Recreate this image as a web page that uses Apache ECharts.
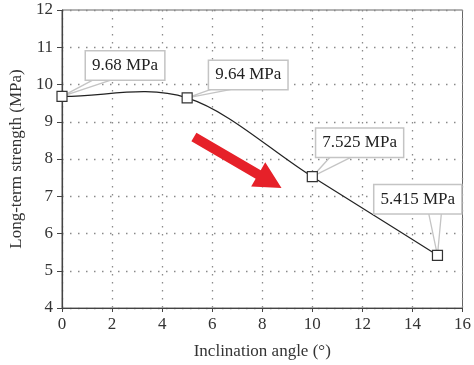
<!DOCTYPE html>
<html><head><meta charset="utf-8">
<script src="https://cdn.jsdelivr.net/npm/echarts@6/dist/echarts.min.js"></script>
<style>html,body{margin:0;padding:0;background:#fff}#c{width:474px;height:365px}</style>
</head><body><div id="c"></div>
<script>
// ---- data ----
const angles = [0, 5, 10, 15];
const strength = [9.68, 9.64, 7.525, 5.415];
const labelUnit = ' MPa';
const xAxisName = 'Inclination angle (°)';
const yAxisName = 'Long-term strength (MPa)';
const arrowFrom = [5.27, 8.59];
const arrowTo = [8.77, 7.22];

// ---- callout layout (style only) ----
const calloutBox = [[24, -45], [22, -37], [4, -48], [-63, -70]];
const calloutBase = [[10, 30], [6, 30], [15, 38], [54, 67]];
const boxH = 28;

const FONT = '"Liberation Serif", "DejaVu Serif", serif';
const chart = echarts.init(document.getElementById('c'), null, {renderer: 'canvas'});

// Catmull-Rom style tangents (finite differences), endpoints use secants
function tangents(xs, ys) {
  const n = xs.length, m = [];
  for (let i = 0; i < n; i++) {
    if (i === 0) m.push((ys[1] - ys[0]) / (xs[1] - xs[0]));
    else if (i === n - 1) m.push((ys[n - 1] - ys[n - 2]) / (xs[n - 1] - xs[n - 2]));
    else m.push((ys[i + 1] - ys[i - 1]) / (xs[i + 1] - xs[i - 1]));
  }
  return m;
}

function renderCurve(params, api) {
  const m = tangents(angles, strength);
  const children = [];
  for (let i = 0; i < angles.length - 1; i++) {
    const h = angles[i + 1] - angles[i];
    const p0 = api.coord([angles[i], strength[i]]);
    const p1 = api.coord([angles[i + 1], strength[i + 1]]);
    const c0 = api.coord([angles[i] + h / 3, strength[i] + m[i] * h / 3]);
    const c1 = api.coord([angles[i + 1] - h / 3, strength[i + 1] - m[i + 1] * h / 3]);
    children.push({
      type: 'bezierCurve',
      shape: {x1: p0[0], y1: p0[1], x2: p1[0], y2: p1[1], cpx1: c0[0], cpy1: c0[1], cpx2: c1[0], cpy2: c1[1]},
      style: {stroke: '#222', lineWidth: 1.2, fill: null}
    });
  }
  return {type: 'group', children: children};
}

chart.setOption({
  animation: false,
  backgroundColor: '#fff',
  grid: {left: 59, right: 8, top: 10, bottom: 57, show: true, borderColor: '#666', borderWidth: 1},
  xAxis: {
    type: 'value', min: 0, max: 16, interval: 2,
    name: xAxisName, nameLocation: 'middle', nameGap: 35,
    nameTextStyle: {fontFamily: FONT, fontSize: 17, color: '#333'},
    axisLine: {show: true, onZero: false, lineStyle: {color: '#444', width: 1.2}},
    axisTick: {show: true, length: 4, lineStyle: {color: '#444'}},
    axisLabel: {fontFamily: FONT, fontSize: 17, color: '#333', margin: 8},
    splitLine: {show: true, lineStyle: {color: '#8a8a8a', type: [1.5, 6.5], width: 1.3}}
  },
  yAxis: {
    type: 'value', min: 4, max: 12, interval: 1,
    name: yAxisName, nameLocation: 'middle', nameGap: 37, nameRotate: 90,
    nameTextStyle: {fontFamily: FONT, fontSize: 17, color: '#333'},
    axisLine: {show: true, onZero: false, lineStyle: {color: '#444', width: 1.2}},
    axisTick: {show: true, length: 5, lineStyle: {color: '#444'}},
    axisLabel: {fontFamily: FONT, fontSize: 17, color: '#333', margin: 9},
    splitLine: {show: true, lineStyle: {color: '#8a8a8a', type: [1.5, 6.5], width: 1.3}}
  },
  series: [{
    type: 'custom',
    data: [[angles[0], strength[0]]],
    renderItem: renderCurve,
    silent: true,
    z: 2
  }, {
    type: 'scatter',
    data: angles.map((a, i) => [a, strength[i]]),
    symbol: 'rect', symbolSize: 10,
    itemStyle: {color: '#fff', borderColor: '#333', borderWidth: 1.2, opacity: 1},
    z: 4
  }]
});

function buildGraphics() {
  const g = [];
  angles.forEach((a, i) => {
    const p = chart.convertToPixel({gridIndex: 0}, [a, strength[i]]);
    const bx = p[0] + calloutBox[i][0];
    const by = p[1] + calloutBox[i][1];
    const bottom = by + boxH;
    g.push({
      type: 'polygon', z: 1,
      shape: {points: [[bx + calloutBase[i][0], bottom - 1], [p[0], p[1]], [bx + calloutBase[i][1], bottom - 1]]},
      style: {fill: '#fff', stroke: '#c4c4c4', lineWidth: 1.3}
    });
    g.push({
      type: 'text', z: 10,
      x: bx, y: by,
      style: {
        text: strength[i] + labelUnit,
        font: '17px ' + FONT,
        fill: '#222',
        backgroundColor: '#fff',
        borderColor: '#c4c4c4', borderWidth: 1.5,
        padding: [4, 6, 4, 6],
        lineHeight: 20
      }
    });
  });
  const s = chart.convertToPixel({gridIndex: 0}, arrowFrom);
  const e = chart.convertToPixel({gridIndex: 0}, arrowTo);
  const dx = e[0] - s[0], dy = e[1] - s[1];
  const L = Math.hypot(dx, dy);
  const u = [dx / L, dy / L], n = [-u[1], u[0]];
  const hw = 5, hh = 14, hl = 27;
  const hb = [e[0] - u[0] * hl, e[1] - u[1] * hl];
  const P = (b, k) => [b[0] + n[0] * k, b[1] + n[1] * k];
  g.push({
    type: 'polygon', z: 8,
    shape: {points: [P(s, hw), P(hb, hw), P(hb, hh), e, P(hb, -hh), P(hb, -hw), P(s, -hw)]},
    style: {fill: '#e62129', stroke: null}
  });
  chart.setOption({graphic: g});
}
buildGraphics();
</script>
</body></html>
